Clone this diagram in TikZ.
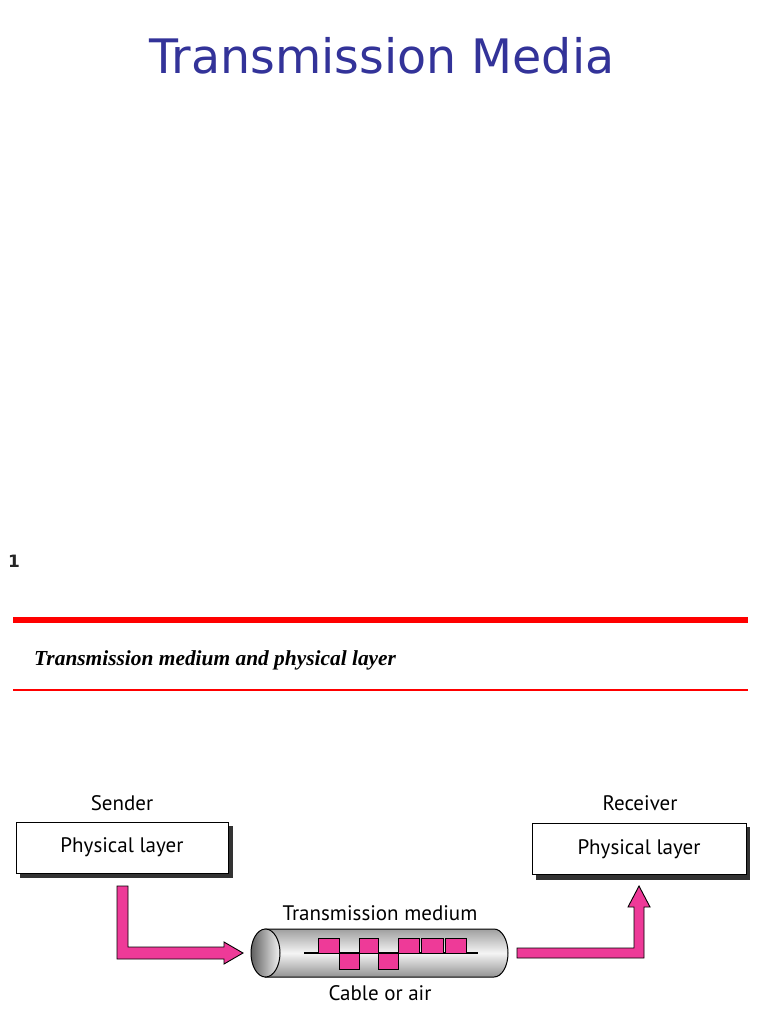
\documentclass[tikz,border=0pt]{standalone}
\usepackage{fontspec}
\setmainfont{DejaVu Sans}
\newfontfamily\titlefont{DejaVu Sans}
\newfontfamily\numfont{DejaVu Sans}
\newfontfamily\capfont{Liberation Serif}
\newfontfamily\labfont{PT Sans}
\definecolor{titleblue}{RGB}{51,51,153}
\definecolor{pinkarrow}{RGB}{238,58,152}
\definecolor{redline}{RGB}{255,0,0}
\begin{document}
\begin{tikzpicture}[x=1pt,y=-1pt,
  layerbox/.style={draw=black,line width=0.9pt,fill=white,minimum width=212pt,minimum height=51pt,inner sep=0pt,font=\labfont\fontsize{21}{24}\selectfont},
  shadowbox/.style={fill=black!80,draw=none},
  lab/.style={font=\labfont\fontsize{21}{24}\selectfont,inner sep=0pt},
  blockarrow/.style={fill=pinkarrow,draw=black,line width=0.9pt,line join=miter},
  sig/.style={fill=pinkarrow,draw=black,line width=1pt}]
\useasboundingbox[fill=white] (0,0) rectangle (768,1024);
% title
\node[font=\titlefont\fontsize{47.5}{56}\selectfont,text=titleblue,anchor=base] (title) at (382,74) {Transmission Media};
\node[font=\numfont\bfseries\fontsize{17}{20}\selectfont,text=black!85,anchor=base west,inner sep=0pt] (num) at (8,567) {1};
% red rules
\coordinate (r1a) at (13,620); \coordinate (r1b) at (748,620);
\draw[redline,line width=6pt] (r1a) -- (r1b);
\coordinate (r2a) at (13,690); \coordinate (r2b) at (748,690);
\draw[redline,line width=1.8pt] (r2a) -- (r2b);
\node[font=\capfont\bfseries\itshape\fontsize{21.4}{25}\selectfont,anchor=base west,inner sep=0pt] (caption) at (34,665) {Transmission medium and physical layer};
% boxes with shadows
\fill[shadowbox] (20,826) rectangle (233,878);
\node[layerbox] (sender) at (122,847.5) {Physical layer};
\node[lab,anchor=base] (senderlab) at (122,810) {Sender};
\fill[shadowbox] (536,827) rectangle (750,880);
\node[layerbox,minimum width=214pt] (receiver) at (639,849) {Physical layer};
\node[lab,anchor=base] (receiverlab) at (640,810) {Receiver};
% cylinder
\shade[top color=gray!75,bottom color=gray!85,middle color=gray!8,draw=black,line width=1pt]
  (265,929) -- (494,929) arc[start angle=-90,end angle=90,x radius=14,y radius=24] -- (265,977) -- cycle;
\shade[left color=gray!75!black,right color=gray!10,draw=black,line width=1pt]
  (265.5,953) ellipse[x radius=14.5,y radius=24];
\coordinate (cylL) at (251,953);
\coordinate (cylR) at (508,953);
\node[lab,anchor=base] (medlab) at (380,920) {Transmission medium};
\node[lab,anchor=base] (cablab) at (380,1000) {Cable or air};
% signal
\coordinate (sa) at (304,953); \coordinate (sb) at (478,953);
\draw[black,line width=1.2pt] (sa) -- (sb);
\draw[sig] (318,938) rectangle (339,953);
\draw[sig] (339,953) rectangle (359,969);
\draw[sig] (359,938) rectangle (378,953);
\draw[sig] (378,953) rectangle (398,969);
\draw[sig] (398,938) rectangle (419,953);
\draw[sig] (421,938) rectangle (443,953);
\draw[sig] (445,938) rectangle (466,953);
% block arrows
\draw[blockarrow] (117,886) -- (128,886) -- (128,947) -- (224,947) -- (224,942) -- (243,953) -- (224,964) -- (224,959) -- (117,959) -- cycle;
\draw[blockarrow] (517,948) -- (634,948) -- (634,907) -- (628,907) -- (639,886) -- (650,907) -- (644,907) -- (644,958) -- (517,958) -- cycle;
\end{tikzpicture}
\end{document}
